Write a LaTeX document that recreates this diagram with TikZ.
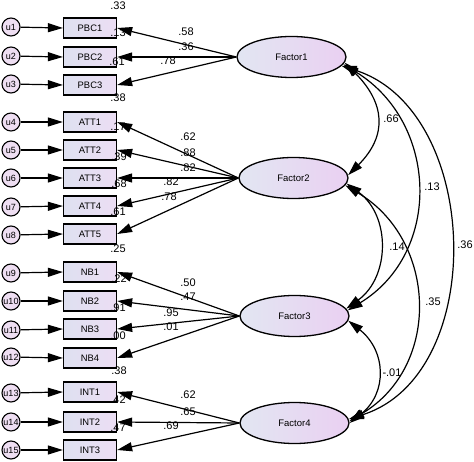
\documentclass[tikz,border=0pt]{standalone}
\usepackage{fontspec}
\setmainfont{Liberation Sans}
\usetikzlibrary{arrows.meta,shapes.geometric}
\definecolor{boxL}{RGB}{222,224,240}
\definecolor{boxR}{RGB}{236,222,244}
\definecolor{ellL}{RGB}{226,230,242}
\definecolor{ellR}{RGB}{234,208,242}
\definecolor{ufill}{RGB}{238,222,242}
\begin{document}
\begin{tikzpicture}[x=1pt,y=-1pt,
  every node/.style={inner sep=0pt},
  err/.style={circle,draw,line width=1.1pt,fill=ufill,minimum size=18pt,font=\fontsize{9}{9}\selectfont},
  ind/.style={rectangle,draw,line width=1.3pt,left color=boxL,right color=boxR,minimum width=53pt,minimum height=20pt,font=\fontsize{9.4}{10}\selectfont},
  fac/.style={ellipse,draw,line width=1.3pt,left color=ellL,right color=ellR,minimum width=109pt,minimum height=41pt,font=\fontsize{9.5}{10}\selectfont},
  arr/.style={line width=1.2pt,-{Triangle[length=15pt,width=9pt]}},
  cov/.style={line width=1.2pt,{Triangle[length=15pt,width=9pt]}-{Triangle[length=15pt,width=9pt]}},
  num/.style={font=\fontsize{11}{12}\selectfont}
]
\useasboundingbox (0,0) rectangle (474,462);

% error terms
\node[err] (u1) at (11,27) {u1};
\node[err] (u2) at (11,56) {u2};
\node[err] (u3) at (11,84) {u3};
\node[err] (u4) at (11,122) {u4};
\node[err] (u5) at (11,150) {u5};
\node[err] (u6) at (11,178) {u6};
\node[err] (u7) at (11,207) {u7};
\node[err] (u8) at (11,235) {u8};
\node[err] (u9) at (11,273) {u9};
\node[err] (u10) at (11,301) {u10};
\node[err] (u11) at (11,330) {u11};
\node[err] (u12) at (11,357) {u12};
\node[err] (u13) at (11,393) {u13};
\node[err] (u14) at (11,422) {u14};
\node[err] (u15) at (11,450) {u15};

% indicators
\node[ind] (PBC1) at (90,28) {PBC1};
\node[ind] (PBC2) at (90,57) {PBC2};
\node[ind] (PBC3) at (90,85) {PBC3};
\node[ind] (ATT1) at (90,122) {ATT1};
\node[ind] (ATT2) at (90,150) {ATT2};
\node[ind] (ATT3) at (90,178) {ATT3};
\node[ind] (ATT4) at (90,206) {ATT4};
\node[ind] (ATT5) at (90,234) {ATT5};
\node[ind] (NB1) at (90,272) {NB1};
\node[ind] (NB2) at (90,301) {NB2};
\node[ind] (NB3) at (90,329) {NB3};
\node[ind] (NB4) at (90,358) {NB4};
\node[ind] (INT1) at (90,392) {INT1};
\node[ind] (INT2) at (90,422) {INT2};
\node[ind] (INT3) at (90,450) {INT3};

% factors
\node[fac] (F1) at (291.5,57) {Factor1};
\node[fac] (F2) at (293.5,178) {Factor2};
\node[fac] (F3) at (294.5,316) {Factor3};
\node[fac] (F4) at (294.5,423) {Factor4};

% error arrows
\foreach \u/\b in {u1/PBC1,u2/PBC2,u3/PBC3,u4/ATT1,u5/ATT2,u6/ATT3,u7/ATT4,u8/ATT5,u9/NB1,u10/NB2,u11/NB3,u12/NB4,u13/INT1,u14/INT2,u15/INT3}
  \draw[arr] (\u) -- (\b.west);

% loadings
\foreach \b in {PBC1,PBC2,PBC3} \draw[arr] (F1.west) -- (\b.east);
\foreach \b in {ATT1,ATT2,ATT3,ATT4,ATT5} \draw[arr] (F2.west) -- (\b.east);
\foreach \b in {NB1,NB2,NB3,NB4} \draw[arr] (F3.west) -- (\b.east);
\foreach \b in {INT1,INT2,INT3} \draw[arr] (F4.west) -- (\b.east);

% covariances
\draw[cov] (F1.-6) .. controls +(40,40) and +(40,-40) .. (F2.3);
\draw[cov] (F1.-8) .. controls +(95,58) and +(95,-58) .. (F3.6);
\draw[cov] (F1.-10) .. controls +(140,45) and +(140,-45) .. (F4.4);
\draw[cov] (F2.-6) .. controls +(44,32) and +(44,-32) .. (F3.8);
\draw[cov] (F2.-8) .. controls +(92,55) and +(92,-55) .. (F4.2);
\draw[cov] (F3.-5) .. controls +(38,30) and +(38,-30) .. (F4.0);

% loading labels
\node[num] (l1) at (186,32) {.58};
\node[num] (l2) at (186,47) {.36};
\node[num] (l3) at (168,61) {.78};
\node[num] (l4) at (188,137) {.62};
\node[num] (l5) at (188,153) {.88};
\node[num] (l6) at (188,168) {.82};
\node[num] (l7) at (171,182) {.82};
\node[num] (l8) at (169,197) {.78};
\node[num] (l9) at (188,283) {.50};
\node[num] (l10) at (188,297) {.47};
\node[num] (l11) at (171,313) {.95};
\node[num] (l12) at (171,327) {.01};
\node[num] (l13) at (188,395) {.62};
\node[num] (l14) at (188,412) {.65};
\node[num] (l15) at (171,426) {.69};

% squared multiple correlations
\node[num] (r1) at (118,6) {.33};
\node[num] (r2) at (118,33) {.13};
\node[num] (r3) at (117,62) {.61};
\node[num] (r4) at (118,98) {.38};
\node[num] (r5) at (118,127) {.17};
\node[num] (r6) at (119,157) {.39};
\node[num] (r7) at (119,184) {.68};
\node[num] (r8) at (118,212) {.61};
\node[num] (r9) at (118,249) {.25};
\node[num] (r10) at (119,279) {.22};
\node[num] (r11) at (118,308) {.91};
\node[num] (r12) at (118,336) {.00};
\node[num] (r13) at (119,371) {.38};
\node[num] (r14) at (118,400) {.42};
\node[num] (r15) at (118,428) {.47};

% covariance labels
\node[num] (c1) at (391,119) {.66};
\node[num] (c2) at (432,187) {.13};
\node[num] (c3) at (465,245) {.36};
\node[num] (c4) at (397,247) {.14};
\node[num] (c5) at (433,302) {.35};
\node[num] (c6) at (392,373) {-.01};
\end{tikzpicture}
\end{document}
